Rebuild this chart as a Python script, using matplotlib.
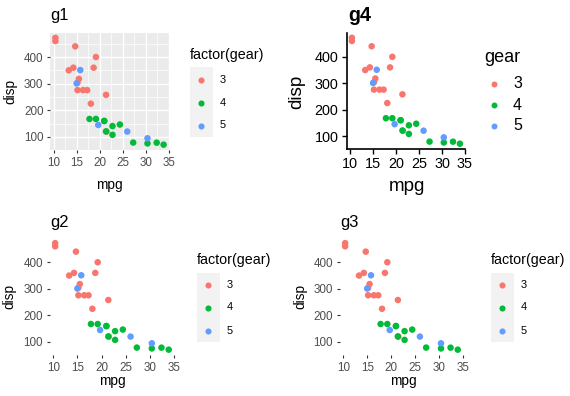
import matplotlib.pyplot as plt
from matplotlib.lines import Line2D
from matplotlib.patches import Rectangle

plt.rcParams['font.family'] = ['Liberation Sans', 'DejaVu Sans']

# mtcars: mpg, disp, gear
mpg = [21.0, 21.0, 22.8, 21.4, 18.7, 18.1, 14.3, 24.4, 22.8, 19.2, 17.8,
       16.4, 17.3, 15.2, 10.4, 10.4, 14.7, 32.4, 30.4, 33.9, 21.5, 15.5,
       15.2, 13.3, 19.2, 27.3, 26.0, 30.4, 15.8, 19.7, 15.0, 21.4]
disp = [160, 160, 108, 258, 360, 225, 360, 146.7, 140.8, 167.6, 167.6,
        275.8, 275.8, 275.8, 472, 460, 440, 78.7, 75.7, 71.1, 120.1, 318,
        304, 350, 400, 79, 120.3, 95.1, 351, 145, 301, 121]
gear = [4, 4, 4, 3, 3, 3, 3, 4, 4, 4, 4, 3, 3, 3, 3, 3, 3, 4, 4, 4, 3, 3,
        3, 3, 3, 4, 5, 5, 5, 5, 5, 4]
gear_levels = [3, 4, 5]
gear_colors = ["#F8766D", "#00BA38", "#619CFF"]
x_ticks = [10, 15, 20, 25, 30, 35]
y_ticks = [100, 200, 300, 400]

W, H = 570, 396
fig = plt.figure(figsize=(W / 100, H / 100), dpi=100)


def fx(p):
    return p / W


def fy(p):
    return 1 - p / H


def rect(l, t, r, b):
    return [fx(l), fy(b), (r - l) / W, (b - t) / H]


def expand(v):
    lo, hi = min(v), max(v)
    d = (hi - lo) * 0.05
    return lo - d, hi + d


col_of = dict(zip(gear_levels, gear_colors))
point_cols = [col_of[g] for g in gear]


def panel(box, style, tick_fs):
    ax = fig.add_axes(rect(*box))
    ax.scatter(mpg, disp, c=point_cols, s=22, linewidths=0, zorder=3)
    ax.set_xlim(expand(mpg))
    ax.set_ylim(expand(disp))
    ax.set_xticks(x_ticks)
    ax.set_yticks(y_ticks)
    for s in ax.spines.values():
        s.set_visible(False)
    if style == "gray":
        ax.set_facecolor("#EBEBEB")
        ax.set_xticks([12.5, 17.5, 22.5, 27.5, 32.5], minor=True)
        ax.set_yticks([150, 250, 350, 450], minor=True)
        ax.grid(which="major", color="white", lw=0.95)
        ax.grid(which="minor", color="white", lw=0.5)
        ax.set_axisbelow(True)
        ax.tick_params(which="minor", length=0)
        ax.tick_params(which="major", length=2.5, width=0.8, color="#333333",
                       labelcolor="#4D4D4D", labelsize=tick_fs, pad=2.2)
    elif style == "classic":
        ax.spines["left"].set_visible(True)
        ax.spines["bottom"].set_visible(True)
        for k in ("left", "bottom"):
            ax.spines[k].set_linewidth(1.2)
            ax.spines[k].set_color("black")
        ax.tick_params(length=3.5, width=1.0, color="black",
                       labelcolor="black", labelsize=tick_fs, pad=2.4)
    else:
        ax.tick_params(length=2.5, width=0.8, color="#333333",
                       labelcolor="#4D4D4D", labelsize=tick_fs, pad=2.2)
    return ax


def legend(title, title_x, title_y, key_x, key_ys, label_x, bg, fs_title,
           fs_text, msize):
    if bg is not None:
        fig.add_artist(Rectangle((fx(bg[0]), fy(bg[3])), (bg[2] - bg[0]) / W,
                                 (bg[3] - bg[1]) / H, transform=fig.transFigure,
                                 facecolor="#F2F2F2", edgecolor="none"))
    fig.text(fx(title_x), fy(title_y), title, fontsize=fs_title, va="center",
             ha="left")
    for lev, c, ky in zip(gear_levels, gear_colors, key_ys):
        fig.add_artist(Line2D([fx(key_x)], [fy(ky)], marker="o", ms=msize,
                              mfc=c, mec="none", ls="none",
                              transform=fig.transFigure))
        fig.text(fx(label_x), fy(ky), str(lev), fontsize=fs_text, va="center",
                 ha="left")


# g1 : grey theme
panel((50, 32.5, 169, 150), "gray", 8.4)
fig.text(fx(50), fy(20), "g1", fontsize=11.9, va="baseline", ha="left")
fig.text(fx(10), fy(91), "disp", fontsize=9.9, rotation=90, va="center",
         ha="center")
fig.text(fx(109), fy(189), "mpg", fontsize=9.9, va="baseline", ha="center")
legend("factor(gear)", 190, 55, 201, [80, 102.5, 125.5], 220,
       (190, 67, 213, 137), 10.3, 7.9, 4.4)

# g4 : classic, larger text
panel((346.5, 32.5, 465.3, 149), "classic", 10.4)
fig.text(fx(348), fy(21), "g4", fontsize=14.2, fontweight="bold",
         va="baseline", ha="left")
fig.text(fx(297), fy(92), "disp", fontsize=13.6, rotation=90, va="center",
         ha="center")
fig.text(fx(406.5), fy(191), "mpg", fontsize=13.6, va="baseline",
         ha="center")
legend("gear", 484, 57, 493.5, [84, 105, 126], 513, None, 13, 11.5, 4.3)

# g2 : blank theme
panel((49.5, 237.8, 174.4, 355), "blank", 8.4)
fig.text(fx(50), fy(227), "g2", fontsize=11.9, va="baseline", ha="left")
fig.text(fx(9), fy(296), "disp", fontsize=9.9, rotation=90, va="center",
         ha="center")
fig.text(fx(112), fy(385), "mpg", fontsize=9.9, va="baseline", ha="center")
legend("factor(gear)", 197, 260, 208, [285, 307.5, 331], 227,
       (197, 273, 220, 342), 10.3, 7.9, 4.4)

# g3 : blank theme
panel((339.5, 237.8, 463.4, 355), "blank", 8.4)
fig.text(fx(340), fy(227), "g3", fontsize=11.9, va="baseline", ha="left")
fig.text(fx(300), fy(296), "disp", fontsize=9.9, rotation=90, va="center",
         ha="center")
fig.text(fx(403), fy(385), "mpg", fontsize=9.9, va="baseline", ha="center")
legend("factor(gear)", 491, 260, 502, [285, 307.5, 331], 521,
       (491, 273, 514, 342), 10.3, 7.9, 4.4)

fig.savefig("out.png", dpi=100)
